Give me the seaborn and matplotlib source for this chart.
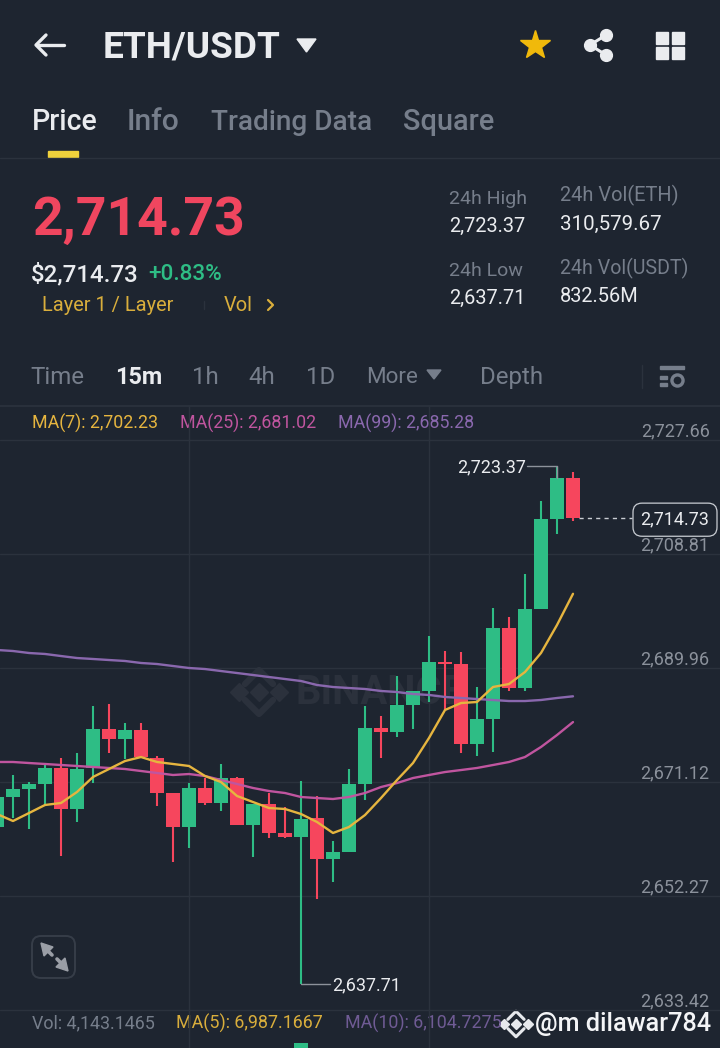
"""Binance style ETH/USDT 15m candle screen."""
import matplotlib
matplotlib.use("Agg")
import matplotlib.pyplot as plt
from matplotlib.patches import FancyBboxPatch, Rectangle
import pandas as pd
import seaborn as sns

# --- chart values ---
opens = [2663.67, 2668.63, 2669.95, 2670.78, 2673.43, 2666.65, 2673.43, 2679.87, 2678.22, 2679.71,
         2675.08, 2669.29, 2663.67, 2670.12, 2667.64, 2671.77, 2664.00, 2667.47, 2662.68, 2662.02,
         2665.16, 2658.38, 2659.54, 2670.78, 2680.04, 2679.38, 2683.84, 2686.16, 2690.95, 2690.62,
         2677.39, 2681.53, 2696.57, 2686.65, 2699.72, 2714.60, 2721.38]
closes = [2668.63, 2669.95, 2670.78, 2673.43, 2666.65, 2673.26, 2679.87, 2678.22, 2679.71, 2675.24,
          2669.29, 2663.67, 2670.12, 2667.64, 2671.77, 2664.00, 2667.47, 2662.68, 2662.02, 2664.99,
          2658.38, 2659.54, 2670.78, 2680.04, 2679.38, 2683.84, 2686.16, 2690.95, 2690.62, 2677.39,
          2681.53, 2696.57, 2686.65, 2699.72, 2714.60, 2721.38, 2714.73]
highs = [2670.12, 2672.27, 2671.11, 2673.92, 2675.08, 2675.91, 2683.68, 2684.01, 2680.87, 2680.87,
         2675.41, 2669.29, 2670.94, 2671.77, 2674.09, 2671.93, 2667.47, 2669.29, 2666.98, 2671.28,
         2668.80, 2661.35, 2673.26, 2683.68, 2682.02, 2688.64, 2686.16, 2695.25, 2692.77, 2692.61,
         2686.82, 2699.88, 2698.39, 2705.50, 2717.57, 2723.37, 2722.37]
lows = [2662.02, 2665.16, 2663.34, 2667.31, 2658.87, 2664.50, 2670.94, 2675.91, 2674.91, 2675.24,
        2667.14, 2657.88, 2660.20, 2667.31, 2666.32, 2664.00, 2658.71, 2661.85, 2661.85, 2637.71,
        2651.76, 2654.58, 2659.54, 2668.13, 2675.08, 2678.55, 2679.87, 2684.34, 2683.02, 2675.91,
        2675.41, 2676.07, 2686.16, 2686.16, 2699.72, 2712.12, 2714.27]
ma7 = [2665.82, 2664.66, 2665.98, 2667.31, 2667.64, 2669.46, 2671.94, 2673.26, 2674.58, 2675.24,
       2674.42, 2674.09, 2673.76, 2672.10, 2671.11, 2668.80, 2667.80, 2666.81, 2666.65, 2665.82,
       2664.50, 2662.68, 2663.67, 2665.65, 2668.46, 2671.44, 2674.25, 2678.39, 2683.02, 2684.17,
       2684.34, 2686.82, 2687.31, 2689.30, 2692.44, 2697.07, 2702.23]
ma25 = [2674.42, 2674.42, 2674.25, 2674.09, 2673.92, 2673.76, 2673.59, 2673.43, 2673.26, 2672.93,
        2672.60, 2672.27, 2672.43, 2672.10, 2671.44, 2670.78, 2670.12, 2669.62, 2669.29, 2668.63,
        2668.46, 2668.30, 2668.63, 2669.29, 2670.28, 2670.94, 2671.77, 2672.27, 2672.76, 2673.09,
        2673.43, 2673.92, 2674.42, 2675.24, 2676.90, 2678.88, 2681.02]
ma99 = [2692.94, 2692.77, 2692.44, 2692.28, 2691.94, 2691.61, 2691.45, 2691.28, 2691.12, 2690.79,
        2690.62, 2690.29, 2689.96, 2689.79, 2689.46, 2689.13, 2688.80, 2688.47, 2688.14, 2687.81,
        2687.15, 2686.82, 2686.65, 2686.49, 2686.16, 2685.99, 2685.66, 2685.50, 2685.17, 2685.00,
        2684.83, 2684.67, 2684.50, 2684.50, 2684.67, 2685.00, 2685.28]
price_ticks = [2727.66, 2708.81, 2689.96, 2671.12, 2652.27, 2633.42]
price_tick_labels = ["2,727.66", "2,708.81", "2,689.96", "2,671.12", "2,652.27", "2,633.42"]
time_ticks = [12, 27]
vol_index = [19]
vol_values = [30000]

last_price = 2714.73
high_price = 2723.37
low_price = 2637.71

BG = "#1e2530"
GRID = "#2b323d"
GREEN = "#2ebd85"
RED = "#f6465d"
YELLOW = "#e6b53f"
PINK = "#c0559f"
PURPLE = "#8a68ae"
WHITE = "#eaecef"
GRAY = "#767e8b"
GOLD = "#d9ae3c"
FAINT = "#2b313c"

sns.set_theme(style="darkgrid", rc={"figure.facecolor": BG, "axes.facecolor": BG, "grid.color": GRID})
plt.rcParams["font.family"] = ["Roboto", "DejaVu Sans"]

W, H = 720, 1048
fig = plt.figure(figsize=(W / 100, H / 100), dpi=100, facecolor=BG)

# ui layer in pixel coords
ui = fig.add_axes([0, 0, 1, 1], zorder=0)
ui.set_xlim(0, W)
ui.set_ylim(H, 0)
ui.axis("off")


def txt(x, y, s, color=WHITE, px=20, weight="normal", ha="left"):
    # px is the font height in image pixels, y a bit lower to sit like the app text
    ui.text(x, y + 1.5, s, color=color, fontsize=px * 0.72, fontweight=weight, ha=ha, va="center")


def logo(cx, cy, k, color, lw):
    # exchange mark: two chevrons and three small diamonds
    ui.plot([cx - 14 * k, cx, cx + 14 * k], [cy - 8 * k, cy - 22 * k, cy - 8 * k], color=color, lw=lw)
    ui.plot([cx - 14 * k, cx, cx + 14 * k], [cy + 8 * k, cy + 22 * k, cy + 8 * k], color=color, lw=lw)
    ui.plot([cx - 20 * k, cx, cx + 20 * k], [cy, cy, cy], ls="none", marker="D", ms=13 * k * 0.72, color=color)


# header
ui.plot([37, 64], [45, 45], color=WHITE, lw=2.4, solid_capstyle="round")
ui.plot([46, 36, 46], [35, 45, 55], color=WHITE, lw=2.4, solid_capstyle="round", solid_joinstyle="round")
txt(103, 46, "ETH/USDT", px=37, weight="bold")
ui.fill([297, 316, 306.5], [39, 39, 52], color=WHITE)
ui.plot([535], [45], marker="*", ms=22, color="#f0b90b", mec="#f0b90b")
ui.plot([606, 590, 606], [35, 45, 55], color=WHITE, lw=2.2)
ui.plot([606, 590, 606], [35, 45, 55], ls="none", marker="o", ms=8.5, color=WHITE)
for gx, gy in [(656, 32), (672, 32), (656, 47), (672, 47)]:
    ui.add_patch(Rectangle((gx, gy), 12, 11.5, color=WHITE))

# tabs
txt(32, 121, "Price", px=28.5, weight="medium")
txt(127, 121, "Info", color=GRAY, px=30, weight="medium")
txt(211, 121, "Trading Data", color=GRAY, px=28, weight="medium")
txt(403, 121, "Square", color=GRAY, px=29, weight="medium")
ui.add_patch(Rectangle((48, 151), 30, 6, color="#f0d23c"))
ui.plot([0, W], [157.5, 157.5], color=GRID, lw=1)

# price block
txt(32, 219, "2,714.73", color="#f0465f", px=53.5, weight="bold")
txt(31, 273, "$2,714.73", px=24, weight="medium")
txt(148, 273, "+0.83%", color=GREEN, px=22.5, weight="medium")
txt(42, 304, "Layer 1 / Layer", color=GOLD, px=20)
ui.plot([204, 204], [301, 309], color=GRID, lw=1)
txt(224, 304, "Vol", color=GOLD, px=20)
ui.plot([268, 273, 268], [300, 305, 310], color=GOLD, lw=1.6)

txt(449, 197, "24h High", color=GRAY, px=19.5)
txt(449, 225, "2,723.37", px=20)
txt(560, 194, "24h Vol(ETH)", color=GRAY, px=20)
txt(560, 223, "310,579.67", px=20.5)
txt(449, 269, "24h Low", color=GRAY, px=19.5)
txt(449, 297, "2,637.71", px=20)
txt(560, 267, "24h Vol(USDT)", color=GRAY, px=19.7)
txt(560, 295, "832.56M", px=20)

# interval row
txt(30, 376, "Time", color=GRAY, px=24)
txt(115, 376, "15m", px=23.5, weight="bold")
txt(192, 376, "1h", color=GRAY, px=24)
txt(248, 376, "4h", color=GRAY, px=24)
txt(306, 376, "1D", color=GRAY, px=24)
txt(366, 376, "More", color=GRAY, px=22.5)
ui.fill([427, 441, 434], [370, 370, 379], color=GRAY)
txt(480, 376, "Depth", color=GRAY, px=24)
ui.plot([642, 642], [365, 388], color=GRID, lw=1)
ui.add_patch(Rectangle((660, 366), 24, 3, color=GRAY))
ui.add_patch(Rectangle((660, 376), 7, 3, color=GRAY))
ui.add_patch(Rectangle((660, 383), 7, 3, color=GRAY))
ui.plot([677], [380], marker="o", ms=8, mfc="none", mec=GRAY, mew=2.4)

txt(32, 422, "MA(7): 2,702.23", color=YELLOW, px=17.8)
txt(180, 422, "MA(25): 2,681.02", color=PINK, px=17.8)
txt(338, 422, "MA(99): 2,685.28", color=PURPLE, px=17.8)

# faint watermark behind the candles
logo(259, 692, 1.0, FAINT, 4.5)
txt(295, 691, "BINANCE", color=FAINT, px=40, weight="bold")

# expand button
ui.add_patch(FancyBboxPatch((36, 940), 35, 34, boxstyle="round,pad=4,rounding_size=9",
                            fc="none", ec="#363d48", lw=1.4))
ui.fill([41, 53, 44], [943, 947, 956], color="#9a9ea6")
ui.fill([68, 56, 65], [971, 967, 958], color="#9a9ea6")
ui.plot([46, 52], [949, 955], color="#9a9ea6", lw=2.6)
ui.plot([57, 63], [959, 965], color="#9a9ea6", lw=2.6)

# footer row
txt(32, 1022, "Vol: 4,143.1465", color=GRAY, px=17.9)
txt(176, 1022, "MA(5): 6,987.1667", color=GOLD, px=17.9)
txt(345, 1022, "MA(10): 6,104.7275", color="#6f5b94", px=17.9)
txt(535, 1023, "@m dilawar784", color="#f4f5f7", px=25.3, weight="medium")
logo(516, 1024, 0.58, "#e6e8ec", 2.2)

# price chart, from the row line down to the image edge
ax = fig.add_axes([0, 0, 1, 642 / H], zorder=1)
ax.patch.set_alpha(0)
ax.set_xlim(0.1875, 45.1875)
ax.set_ylim(2627.13, 2733.28)
for side in ax.spines.values():
    side.set_visible(False)
ax.spines["top"].set_visible(True)
ax.spines["top"].set_color(GRID)
ax.set_axisbelow(True)
ax.grid(True, color=GRID, lw=1)

ax.set_xticks(time_ticks, ["", ""])
ax.yaxis.tick_right()
ax.set_yticks(price_ticks, price_tick_labels)
ax.tick_params(axis="both", length=0)
ax.tick_params(axis="y", pad=-7.5, labelsize=18 * 0.72, labelcolor="#8b919b")
plt.setp(ax.get_yticklabels(), ha="right", va="bottom")

df = pd.DataFrame({"i": range(len(opens)), "open": opens, "close": closes, "high": highs, "low": lows,
                   "ma7": ma7, "ma25": ma25, "ma99": ma99})
up = df["close"] >= df["open"]
colors = [GREEN if u else RED for u in up]

ax.vlines(df["i"], df["low"], df["high"], colors=colors, lw=1.5, zorder=3)
ax.bar(df["i"], (df["close"] - df["open"]).abs(), bottom=df[["open", "close"]].min(axis=1),
       width=0.875, color=colors, linewidth=0, zorder=3)

sns.lineplot(data=df, x="i", y="ma99", ax=ax, color=PURPLE, lw=1.7, zorder=4)
sns.lineplot(data=df, x="i", y="ma25", ax=ax, color=PINK, lw=1.7, zorder=4)
sns.lineplot(data=df, x="i", y="ma7", ax=ax, color=YELLOW, lw=1.7, zorder=4)
ax.set_xlabel("")
ax.set_ylabel("")

# high / low callouts
ax.plot([35 - 1.875, 35, 35], [high_price, high_price, closes[35]], color="#8d929b", lw=1, zorder=5)
ax.annotate("2,723.37", xy=(35 - 1.875, high_price), xytext=(-1, -1.5), textcoords="offset pixels",
            ha="right", va="center", color=WHITE, fontsize=18 * 0.72)
ax.plot([19, 19 + 1.8], [low_price, low_price], color="#8d929b", lw=1, zorder=5)
ax.annotate("2,637.71", xy=(19 + 1.8, low_price), xytext=(2, -1.5), textcoords="offset pixels",
            ha="left", va="center", color=WHITE, fontsize=18 * 0.72)

# last price marker
ax.plot([36.4, 39.7], [last_price, last_price], color="#c9cdd3", lw=1, ls=(0, (3, 3)), zorder=5)
ax.annotate("2,714.73", xy=(1, last_price), xycoords=("axes fraction", "data"), xytext=(-45, -1.5),
            textcoords="offset pixels", ha="center", va="center", color=WHITE, fontsize=18 * 0.72,
            bbox=dict(boxstyle="round,pad=0.42,rounding_size=0.5", fc=BG, ec="#c9cdd3", lw=0.9), zorder=6)

# volume pane, only its top edge is in frame
vol = fig.add_axes([0, 0, 1, 38 / H], zorder=1)
vol.patch.set_alpha(0)
vol.set_xlim(ax.get_xlim())
vol.set_ylim(28000, 43200)
vol.axis("off")
vol.bar(vol_index, vol_values, width=0.875, color=GREEN, linewidth=0)

fig.savefig("out.png", dpi=100, facecolor=BG)
